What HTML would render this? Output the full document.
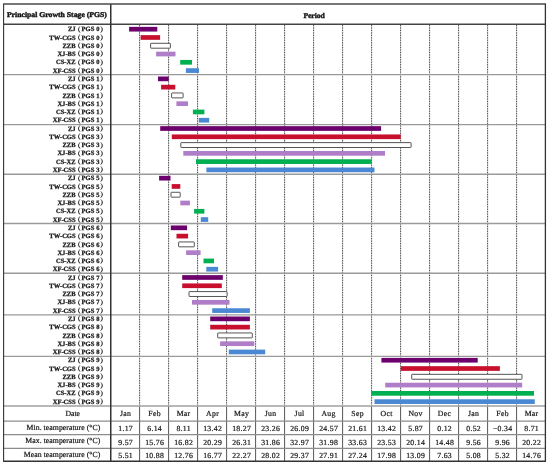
<!DOCTYPE html>
<html><head><meta charset="utf-8"><title>Growth stage periods</title><style>
html,body{margin:0;padding:0;background:#fff;width:550px;height:466px;overflow:hidden}
svg{display:block}
text{font-family:"Liberation Serif","Noto Serif CJK SC",serif;fill:#1a1a1a;text-rendering:geometricPrecision}
.hd{font-weight:bold;font-size:7.4px;stroke:#111;stroke-width:0.4px}
.lb{font-weight:bold;font-size:6.55px;stroke:#111;stroke-width:0.25px}
.lp{font-family:"Liberation Serif","Noto Serif CJK SC",serif;font-weight:bold;font-size:6.6px;stroke:#111;stroke-width:0.3px}
.tb{font-size:7.75px;stroke:#111;stroke-width:0.2px}
</style></head><body>
<svg width="550" height="466" viewBox="0 0 550 466">
<rect width="550" height="466" fill="#fff"/>
<line x1="139.6" y1="24.9" x2="139.6" y2="405.4" stroke="#d0d0d0" stroke-width="1"/>
<line x1="139.6" y1="24.9" x2="139.6" y2="405.4" stroke="#4a4a4a" stroke-width="1" stroke-dasharray="1.25 1.2"/>
<line x1="139.6" y1="405.9" x2="139.6" y2="461.2" stroke="#555" stroke-width="1"/>
<line x1="168.6" y1="24.9" x2="168.6" y2="405.4" stroke="#d0d0d0" stroke-width="1"/>
<line x1="168.6" y1="24.9" x2="168.6" y2="405.4" stroke="#4a4a4a" stroke-width="1" stroke-dasharray="1.25 1.2"/>
<line x1="168.6" y1="405.9" x2="168.6" y2="461.2" stroke="#555" stroke-width="1"/>
<line x1="197.6" y1="24.9" x2="197.6" y2="405.4" stroke="#d0d0d0" stroke-width="1"/>
<line x1="197.6" y1="24.9" x2="197.6" y2="405.4" stroke="#4a4a4a" stroke-width="1" stroke-dasharray="1.25 1.2"/>
<line x1="197.6" y1="405.9" x2="197.6" y2="461.2" stroke="#555" stroke-width="1"/>
<line x1="226.6" y1="24.9" x2="226.6" y2="405.4" stroke="#d0d0d0" stroke-width="1"/>
<line x1="226.6" y1="24.9" x2="226.6" y2="405.4" stroke="#4a4a4a" stroke-width="1" stroke-dasharray="1.25 1.2"/>
<line x1="226.6" y1="405.9" x2="226.6" y2="461.2" stroke="#555" stroke-width="1"/>
<line x1="255.6" y1="24.9" x2="255.6" y2="405.4" stroke="#d0d0d0" stroke-width="1"/>
<line x1="255.6" y1="24.9" x2="255.6" y2="405.4" stroke="#4a4a4a" stroke-width="1" stroke-dasharray="1.25 1.2"/>
<line x1="255.6" y1="405.9" x2="255.6" y2="461.2" stroke="#555" stroke-width="1"/>
<line x1="284.6" y1="24.9" x2="284.6" y2="405.4" stroke="#d0d0d0" stroke-width="1"/>
<line x1="284.6" y1="24.9" x2="284.6" y2="405.4" stroke="#4a4a4a" stroke-width="1" stroke-dasharray="1.25 1.2"/>
<line x1="284.6" y1="405.9" x2="284.6" y2="461.2" stroke="#555" stroke-width="1"/>
<line x1="313.6" y1="24.9" x2="313.6" y2="405.4" stroke="#d0d0d0" stroke-width="1"/>
<line x1="313.6" y1="24.9" x2="313.6" y2="405.4" stroke="#4a4a4a" stroke-width="1" stroke-dasharray="1.25 1.2"/>
<line x1="313.6" y1="405.9" x2="313.6" y2="461.2" stroke="#555" stroke-width="1"/>
<line x1="342.6" y1="24.9" x2="342.6" y2="405.4" stroke="#d0d0d0" stroke-width="1"/>
<line x1="342.6" y1="24.9" x2="342.6" y2="405.4" stroke="#4a4a4a" stroke-width="1" stroke-dasharray="1.25 1.2"/>
<line x1="342.6" y1="405.9" x2="342.6" y2="461.2" stroke="#555" stroke-width="1"/>
<line x1="371.6" y1="24.9" x2="371.6" y2="405.4" stroke="#d0d0d0" stroke-width="1"/>
<line x1="371.6" y1="24.9" x2="371.6" y2="405.4" stroke="#4a4a4a" stroke-width="1" stroke-dasharray="1.25 1.2"/>
<line x1="371.6" y1="405.9" x2="371.6" y2="461.2" stroke="#555" stroke-width="1"/>
<line x1="400.6" y1="24.9" x2="400.6" y2="405.4" stroke="#d0d0d0" stroke-width="1"/>
<line x1="400.6" y1="24.9" x2="400.6" y2="405.4" stroke="#4a4a4a" stroke-width="1" stroke-dasharray="1.25 1.2"/>
<line x1="400.6" y1="405.9" x2="400.6" y2="461.2" stroke="#555" stroke-width="1"/>
<line x1="429.6" y1="24.9" x2="429.6" y2="405.4" stroke="#d0d0d0" stroke-width="1"/>
<line x1="429.6" y1="24.9" x2="429.6" y2="405.4" stroke="#4a4a4a" stroke-width="1" stroke-dasharray="1.25 1.2"/>
<line x1="429.6" y1="405.9" x2="429.6" y2="461.2" stroke="#555" stroke-width="1"/>
<line x1="458.6" y1="24.9" x2="458.6" y2="405.4" stroke="#d0d0d0" stroke-width="1"/>
<line x1="458.6" y1="24.9" x2="458.6" y2="405.4" stroke="#4a4a4a" stroke-width="1" stroke-dasharray="1.25 1.2"/>
<line x1="458.6" y1="405.9" x2="458.6" y2="461.2" stroke="#555" stroke-width="1"/>
<line x1="487.6" y1="24.9" x2="487.6" y2="405.4" stroke="#d0d0d0" stroke-width="1"/>
<line x1="487.6" y1="24.9" x2="487.6" y2="405.4" stroke="#4a4a4a" stroke-width="1" stroke-dasharray="1.25 1.2"/>
<line x1="487.6" y1="405.9" x2="487.6" y2="461.2" stroke="#555" stroke-width="1"/>
<line x1="516.6" y1="24.9" x2="516.6" y2="405.4" stroke="#d0d0d0" stroke-width="1"/>
<line x1="516.6" y1="24.9" x2="516.6" y2="405.4" stroke="#4a4a4a" stroke-width="1" stroke-dasharray="1.25 1.2"/>
<line x1="516.6" y1="405.9" x2="516.6" y2="461.2" stroke="#555" stroke-width="1"/>
<line x1="3.6" y1="74.6" x2="545.4" y2="74.6" stroke="#9a9a9a" stroke-width="1.4"/>
<line x1="3.6" y1="124.6" x2="545.4" y2="124.6" stroke="#9a9a9a" stroke-width="1.4"/>
<line x1="3.6" y1="174.2" x2="545.4" y2="174.2" stroke="#9a9a9a" stroke-width="1.4"/>
<line x1="3.6" y1="223.5" x2="545.4" y2="223.5" stroke="#9a9a9a" stroke-width="1.4"/>
<line x1="3.6" y1="273.2" x2="545.4" y2="273.2" stroke="#9a9a9a" stroke-width="1.4"/>
<line x1="3.6" y1="314.9" x2="545.4" y2="314.9" stroke="#9a9a9a" stroke-width="1.4"/>
<line x1="3.6" y1="356.4" x2="545.4" y2="356.4" stroke="#9a9a9a" stroke-width="1.4"/>
<line x1="3.6" y1="405.9" x2="545.4" y2="405.9" stroke="#a0a0a0" stroke-width="1.5"/>
<line x1="3.6" y1="421.2" x2="545.4" y2="421.2" stroke="#8c8c8c" stroke-width="1.3"/>
<line x1="3.6" y1="434.6" x2="545.4" y2="434.6" stroke="#8c8c8c" stroke-width="1.3"/>
<line x1="3.6" y1="448.3" x2="545.4" y2="448.3" stroke="#8c8c8c" stroke-width="1.3"/>
<rect x="129.1" y="26.85" width="28.2" height="4.7" fill="#6c006c"/>
<text class="lb" x="75.6" y="31.35" text-anchor="end">ZJ</text>
<text class="lp" x="74.1" y="31.65">（</text>
<text class="lb" x="81.4" y="31.35" style="letter-spacing:0.15px">PGS 0</text>
<text class="lp" x="100.2" y="31.65">）</text>
<rect x="140.6" y="35.13" width="19.5" height="4.7" fill="#c8102e"/>
<text class="lb" x="75.6" y="39.63" text-anchor="end">TW-CGS</text>
<text class="lp" x="74.1" y="39.93">（</text>
<text class="lb" x="81.4" y="39.63" style="letter-spacing:0.15px">PGS 0</text>
<text class="lp" x="100.2" y="39.93">）</text>
<rect x="150.6" y="43.3" width="19.8" height="4.9" rx="0.5" fill="#fff" stroke="#363636" stroke-width="0.85"/>
<text class="lb" x="75.6" y="47.9" text-anchor="end">ZZB</text>
<text class="lp" x="74.1" y="48.2">（</text>
<text class="lb" x="81.4" y="47.9" style="letter-spacing:0.15px">PGS 0</text>
<text class="lp" x="100.2" y="48.2">）</text>
<rect x="156.1" y="51.68" width="19.4" height="4.7" fill="#b07ec8"/>
<text class="lb" x="75.6" y="56.18" text-anchor="end">XJ-BS</text>
<text class="lp" x="74.1" y="56.48">（</text>
<text class="lb" x="81.4" y="56.18" style="letter-spacing:0.15px">PGS 0</text>
<text class="lp" x="100.2" y="56.48">）</text>
<rect x="180.2" y="59.95" width="11.8" height="4.7" fill="#00b050"/>
<text class="lb" x="75.6" y="64.45" text-anchor="end">CS-XZ</text>
<text class="lp" x="74.1" y="64.75">（</text>
<text class="lb" x="81.4" y="64.45" style="letter-spacing:0.15px">PGS 0</text>
<text class="lp" x="100.2" y="64.75">）</text>
<rect x="185.9" y="68.23" width="13.1" height="4.7" fill="#4b88d4"/>
<text class="lb" x="75.6" y="72.73" text-anchor="end">XF-CSS</text>
<text class="lp" x="74.1" y="73.03">（</text>
<text class="lb" x="81.4" y="72.73" style="letter-spacing:0.15px">PGS 0</text>
<text class="lp" x="100.2" y="73.03">）</text>
<rect x="158" y="76.51" width="10.7" height="4.7" fill="#6c006c"/>
<text class="lb" x="75.6" y="81.01" text-anchor="end">ZJ</text>
<text class="lp" x="74.1" y="81.31">（</text>
<text class="lb" x="81.4" y="81.01" style="letter-spacing:0.15px">PGS 1</text>
<text class="lp" x="100.2" y="81.31">）</text>
<rect x="161.1" y="84.78" width="14.2" height="4.7" fill="#c8102e"/>
<text class="lb" x="75.6" y="89.28" text-anchor="end">TW-CGS</text>
<text class="lp" x="74.1" y="89.58">（</text>
<text class="lb" x="81.4" y="89.28" style="letter-spacing:0.15px">PGS 1</text>
<text class="lp" x="100.2" y="89.58">）</text>
<rect x="171.6" y="92.96" width="11.5" height="4.9" rx="0.5" fill="#fff" stroke="#363636" stroke-width="0.85"/>
<text class="lb" x="75.6" y="97.56" text-anchor="end">ZZB</text>
<text class="lp" x="74.1" y="97.86">（</text>
<text class="lb" x="81.4" y="97.56" style="letter-spacing:0.15px">PGS 1</text>
<text class="lp" x="100.2" y="97.86">）</text>
<rect x="176.4" y="101.33" width="11.6" height="4.7" fill="#b07ec8"/>
<text class="lb" x="75.6" y="105.83" text-anchor="end">XJ-BS</text>
<text class="lp" x="74.1" y="106.13">（</text>
<text class="lb" x="81.4" y="105.83" style="letter-spacing:0.15px">PGS 1</text>
<text class="lp" x="100.2" y="106.13">）</text>
<rect x="192.9" y="109.61" width="11.5" height="4.7" fill="#00b050"/>
<text class="lb" x="75.6" y="114.11" text-anchor="end">CS-XZ</text>
<text class="lp" x="74.1" y="114.41">（</text>
<text class="lb" x="81.4" y="114.11" style="letter-spacing:0.15px">PGS 1</text>
<text class="lp" x="100.2" y="114.41">）</text>
<rect x="198.8" y="117.89" width="10.4" height="4.7" fill="#4b88d4"/>
<text class="lb" x="75.6" y="122.39" text-anchor="end">XF-CSS</text>
<text class="lp" x="74.1" y="122.69">（</text>
<text class="lb" x="81.4" y="122.39" style="letter-spacing:0.15px">PGS 1</text>
<text class="lp" x="100.2" y="122.69">）</text>
<rect x="160.2" y="126.16" width="220.9" height="4.7" fill="#6c006c"/>
<text class="lb" x="75.6" y="130.66" text-anchor="end">ZJ</text>
<text class="lp" x="74.1" y="130.96">（</text>
<text class="lb" x="81.4" y="130.66" style="letter-spacing:0.15px">PGS 3</text>
<text class="lp" x="100.2" y="130.96">）</text>
<rect x="171.8" y="134.44" width="228.9" height="4.7" fill="#c8102e"/>
<text class="lb" x="75.6" y="138.94" text-anchor="end">TW-CGS</text>
<text class="lp" x="74.1" y="139.24">（</text>
<text class="lb" x="81.4" y="138.94" style="letter-spacing:0.15px">PGS 3</text>
<text class="lp" x="100.2" y="139.24">）</text>
<rect x="180.8" y="142.61" width="230.3" height="4.9" rx="0.5" fill="#fff" stroke="#363636" stroke-width="0.85"/>
<text class="lb" x="75.6" y="147.21" text-anchor="end">ZZB</text>
<text class="lp" x="74.1" y="147.51">（</text>
<text class="lb" x="81.4" y="147.21" style="letter-spacing:0.15px">PGS 3</text>
<text class="lp" x="100.2" y="147.51">）</text>
<rect x="183.3" y="150.99" width="201.7" height="4.7" fill="#b07ec8"/>
<text class="lb" x="75.6" y="155.49" text-anchor="end">XJ-BS</text>
<text class="lp" x="74.1" y="155.79">（</text>
<text class="lb" x="81.4" y="155.49" style="letter-spacing:0.15px">PGS 3</text>
<text class="lp" x="100.2" y="155.79">）</text>
<rect x="196" y="159.27" width="175.6" height="4.7" fill="#00b050"/>
<text class="lb" x="75.6" y="163.77" text-anchor="end">CS-XZ</text>
<text class="lp" x="74.1" y="164.07">（</text>
<text class="lb" x="81.4" y="163.77" style="letter-spacing:0.15px">PGS 3</text>
<text class="lp" x="100.2" y="164.07">）</text>
<rect x="206.4" y="167.54" width="168.1" height="4.7" fill="#4b88d4"/>
<text class="lb" x="75.6" y="172.04" text-anchor="end">XF-CSS</text>
<text class="lp" x="74.1" y="172.34">（</text>
<text class="lb" x="81.4" y="172.04" style="letter-spacing:0.15px">PGS 3</text>
<text class="lp" x="100.2" y="172.34">）</text>
<rect x="159.1" y="175.82" width="11.4" height="4.7" fill="#6c006c"/>
<text class="lb" x="75.6" y="180.32" text-anchor="end">ZJ</text>
<text class="lp" x="74.1" y="180.62">（</text>
<text class="lb" x="81.4" y="180.32" style="letter-spacing:0.15px">PGS 5</text>
<text class="lp" x="100.2" y="180.62">）</text>
<rect x="171.7" y="184.09" width="8.6" height="4.7" fill="#c8102e"/>
<text class="lb" x="75.6" y="188.59" text-anchor="end">TW-CGS</text>
<text class="lp" x="74.1" y="188.89">（</text>
<text class="lb" x="81.4" y="188.59" style="letter-spacing:0.15px">PGS 5</text>
<text class="lp" x="100.2" y="188.89">）</text>
<rect x="171" y="192.27" width="9.2" height="4.9" rx="0.5" fill="#fff" stroke="#363636" stroke-width="0.85"/>
<text class="lb" x="75.6" y="196.87" text-anchor="end">ZZB</text>
<text class="lp" x="74.1" y="197.17">（</text>
<text class="lb" x="81.4" y="196.87" style="letter-spacing:0.15px">PGS 5</text>
<text class="lp" x="100.2" y="197.17">）</text>
<rect x="180.3" y="200.65" width="9.6" height="4.7" fill="#b07ec8"/>
<text class="lb" x="75.6" y="205.15" text-anchor="end">XJ-BS</text>
<text class="lp" x="74.1" y="205.45">（</text>
<text class="lb" x="81.4" y="205.15" style="letter-spacing:0.15px">PGS 5</text>
<text class="lp" x="100.2" y="205.45">）</text>
<rect x="194.1" y="208.92" width="10.3" height="4.7" fill="#00b050"/>
<text class="lb" x="75.6" y="213.42" text-anchor="end">CS-XZ</text>
<text class="lp" x="74.1" y="213.72">（</text>
<text class="lb" x="81.4" y="213.42" style="letter-spacing:0.15px">PGS 5</text>
<text class="lp" x="100.2" y="213.72">）</text>
<rect x="200.8" y="217.2" width="7.4" height="4.7" fill="#4b88d4"/>
<text class="lb" x="75.6" y="221.7" text-anchor="end">XF-CSS</text>
<text class="lp" x="74.1" y="222">（</text>
<text class="lb" x="81.4" y="221.7" style="letter-spacing:0.15px">PGS 5</text>
<text class="lp" x="100.2" y="222">）</text>
<rect x="170.8" y="225.47" width="16.3" height="4.7" fill="#6c006c"/>
<text class="lb" x="75.6" y="229.97" text-anchor="end">ZJ</text>
<text class="lp" x="74.1" y="230.27">（</text>
<text class="lb" x="81.4" y="229.97" style="letter-spacing:0.15px">PGS 6</text>
<text class="lp" x="100.2" y="230.27">）</text>
<rect x="176.5" y="233.75" width="11.6" height="4.7" fill="#c8102e"/>
<text class="lb" x="75.6" y="238.25" text-anchor="end">TW-CGS</text>
<text class="lp" x="74.1" y="238.55">（</text>
<text class="lb" x="81.4" y="238.25" style="letter-spacing:0.15px">PGS 6</text>
<text class="lp" x="100.2" y="238.55">）</text>
<rect x="178.6" y="241.93" width="15.7" height="4.9" rx="0.5" fill="#fff" stroke="#363636" stroke-width="0.85"/>
<text class="lb" x="75.6" y="246.53" text-anchor="end">ZZB</text>
<text class="lp" x="74.1" y="246.83">（</text>
<text class="lb" x="81.4" y="246.53" style="letter-spacing:0.15px">PGS 6</text>
<text class="lp" x="100.2" y="246.83">）</text>
<rect x="186.1" y="250.3" width="14.5" height="4.7" fill="#b07ec8"/>
<text class="lb" x="75.6" y="254.8" text-anchor="end">XJ-BS</text>
<text class="lp" x="74.1" y="255.1">（</text>
<text class="lb" x="81.4" y="254.8" style="letter-spacing:0.15px">PGS 6</text>
<text class="lp" x="100.2" y="255.1">）</text>
<rect x="203.5" y="258.58" width="10.5" height="4.7" fill="#00b050"/>
<text class="lb" x="75.6" y="263.08" text-anchor="end">CS-XZ</text>
<text class="lp" x="74.1" y="263.38">（</text>
<text class="lb" x="81.4" y="263.08" style="letter-spacing:0.15px">PGS 6</text>
<text class="lp" x="100.2" y="263.38">）</text>
<rect x="206.3" y="266.85" width="11.8" height="4.7" fill="#4b88d4"/>
<text class="lb" x="75.6" y="271.35" text-anchor="end">XF-CSS</text>
<text class="lp" x="74.1" y="271.65">（</text>
<text class="lb" x="81.4" y="271.35" style="letter-spacing:0.15px">PGS 6</text>
<text class="lp" x="100.2" y="271.65">）</text>
<rect x="182.2" y="275.13" width="40.6" height="4.7" fill="#6c006c"/>
<text class="lb" x="75.6" y="279.63" text-anchor="end">ZJ</text>
<text class="lp" x="74.1" y="279.93">（</text>
<text class="lb" x="81.4" y="279.63" style="letter-spacing:0.15px">PGS 7</text>
<text class="lp" x="100.2" y="279.93">）</text>
<rect x="182.2" y="283.41" width="39.6" height="4.7" fill="#c8102e"/>
<text class="lb" x="75.6" y="287.91" text-anchor="end">TW-CGS</text>
<text class="lp" x="74.1" y="288.21">（</text>
<text class="lb" x="81.4" y="287.91" style="letter-spacing:0.15px">PGS 7</text>
<text class="lp" x="100.2" y="288.21">）</text>
<rect x="189" y="291.58" width="38.1" height="4.9" rx="0.5" fill="#fff" stroke="#363636" stroke-width="0.85"/>
<text class="lb" x="75.6" y="296.18" text-anchor="end">ZZB</text>
<text class="lp" x="74.1" y="296.48">（</text>
<text class="lb" x="81.4" y="296.18" style="letter-spacing:0.15px">PGS 7</text>
<text class="lp" x="100.2" y="296.48">）</text>
<rect x="192" y="299.96" width="37.5" height="4.7" fill="#b07ec8"/>
<text class="lb" x="75.6" y="304.46" text-anchor="end">XJ-BS</text>
<text class="lp" x="74.1" y="304.76">（</text>
<text class="lb" x="81.4" y="304.46" style="letter-spacing:0.15px">PGS 7</text>
<text class="lp" x="100.2" y="304.76">）</text>
<rect x="212.2" y="308.23" width="37.7" height="4.7" fill="#4b88d4"/>
<text class="lb" x="75.6" y="312.73" text-anchor="end">XF-CSS</text>
<text class="lp" x="74.1" y="313.03">（</text>
<text class="lb" x="81.4" y="312.73" style="letter-spacing:0.15px">PGS 7</text>
<text class="lp" x="100.2" y="313.03">）</text>
<rect x="210.2" y="316.51" width="39.7" height="4.7" fill="#6c006c"/>
<text class="lb" x="75.6" y="321.01" text-anchor="end">ZJ</text>
<text class="lp" x="74.1" y="321.31">（</text>
<text class="lb" x="81.4" y="321.01" style="letter-spacing:0.15px">PGS 8</text>
<text class="lp" x="100.2" y="321.31">）</text>
<rect x="210.2" y="324.79" width="39.7" height="4.7" fill="#c8102e"/>
<text class="lb" x="75.6" y="329.29" text-anchor="end">TW-CGS</text>
<text class="lp" x="74.1" y="329.59">（</text>
<text class="lb" x="81.4" y="329.29" style="letter-spacing:0.15px">PGS 8</text>
<text class="lp" x="100.2" y="329.59">）</text>
<rect x="217.7" y="332.96" width="34.6" height="4.9" rx="0.5" fill="#fff" stroke="#363636" stroke-width="0.85"/>
<text class="lb" x="75.6" y="337.56" text-anchor="end">ZZB</text>
<text class="lp" x="74.1" y="337.86">（</text>
<text class="lb" x="81.4" y="337.56" style="letter-spacing:0.15px">PGS 8</text>
<text class="lp" x="100.2" y="337.86">）</text>
<rect x="220.1" y="341.34" width="34.2" height="4.7" fill="#b07ec8"/>
<text class="lb" x="75.6" y="345.84" text-anchor="end">XJ-BS</text>
<text class="lp" x="74.1" y="346.14">（</text>
<text class="lb" x="81.4" y="345.84" style="letter-spacing:0.15px">PGS 8</text>
<text class="lp" x="100.2" y="346.14">）</text>
<rect x="228.8" y="349.61" width="36.4" height="4.7" fill="#4b88d4"/>
<text class="lb" x="75.6" y="354.11" text-anchor="end">XF-CSS</text>
<text class="lp" x="74.1" y="354.41">（</text>
<text class="lb" x="81.4" y="354.11" style="letter-spacing:0.15px">PGS 8</text>
<text class="lp" x="100.2" y="354.41">）</text>
<rect x="381.4" y="357.89" width="96.3" height="4.7" fill="#6c006c"/>
<text class="lb" x="75.6" y="362.39" text-anchor="end">ZJ</text>
<text class="lp" x="74.1" y="362.69">（</text>
<text class="lb" x="81.4" y="362.39" style="letter-spacing:0.15px">PGS 9</text>
<text class="lp" x="100.2" y="362.69">）</text>
<rect x="400.7" y="366.17" width="99.2" height="4.7" fill="#c8102e"/>
<text class="lb" x="75.6" y="370.67" text-anchor="end">TW-CGS</text>
<text class="lp" x="74.1" y="370.97">（</text>
<text class="lb" x="81.4" y="370.67" style="letter-spacing:0.15px">PGS 9</text>
<text class="lp" x="100.2" y="370.97">）</text>
<rect x="411.7" y="374.34" width="110.3" height="4.9" rx="0.5" fill="#fff" stroke="#363636" stroke-width="0.85"/>
<text class="lb" x="75.6" y="378.94" text-anchor="end">ZZB</text>
<text class="lp" x="74.1" y="379.24">（</text>
<text class="lb" x="81.4" y="378.94" style="letter-spacing:0.15px">PGS 9</text>
<text class="lp" x="100.2" y="379.24">）</text>
<rect x="385.2" y="382.72" width="137" height="4.7" fill="#b07ec8"/>
<text class="lb" x="75.6" y="387.22" text-anchor="end">XJ-BS</text>
<text class="lp" x="74.1" y="387.52">（</text>
<text class="lb" x="81.4" y="387.22" style="letter-spacing:0.15px">PGS 9</text>
<text class="lp" x="100.2" y="387.52">）</text>
<rect x="371.3" y="390.99" width="162.7" height="4.7" fill="#00b050"/>
<text class="lb" x="75.6" y="395.49" text-anchor="end">CS-XZ</text>
<text class="lp" x="74.1" y="395.79">（</text>
<text class="lb" x="81.4" y="395.49" style="letter-spacing:0.15px">PGS 9</text>
<text class="lp" x="100.2" y="395.79">）</text>
<rect x="374.5" y="399.27" width="160.3" height="4.7" fill="#4b88d4"/>
<text class="lb" x="75.6" y="403.77" text-anchor="end">XF-CSS</text>
<text class="lp" x="74.1" y="404.07">（</text>
<text class="lb" x="81.4" y="403.77" style="letter-spacing:0.15px">PGS 9</text>
<text class="lp" x="100.2" y="404.07">）</text>
<line x1="3.6" y1="24.3" x2="545.4" y2="24.3" stroke="#444" stroke-width="1.4"/>
<line x1="110.75" y1="4.0" x2="110.75" y2="461.2" stroke="#333" stroke-width="1.5"/>
<line x1="3.1" y1="4.0" x2="546.0" y2="4.0" stroke="#4a4a4a" stroke-width="1.5"/>
<line x1="3.1" y1="461.2" x2="546.0" y2="461.2" stroke="#333" stroke-width="1.5"/>
<line x1="3.6" y1="4.0" x2="3.6" y2="461.2" stroke="#333" stroke-width="1.1"/>
<line x1="545.4" y1="4.0" x2="545.4" y2="461.2" stroke="#333" stroke-width="1.3"/>
<text class="hd" x="6.9" y="17.45" textLength="100" lengthAdjust="spacingAndGlyphs">Principal Growth Stage (PGS)</text>
<text class="hd" x="303.4" y="17.7" textLength="21.4" lengthAdjust="spacingAndGlyphs">Period</text>
<text class="tb" x="72.7" y="415.8" text-anchor="middle">Date</text>
<text class="tb" x="100.3" y="429.8" text-anchor="end" style="letter-spacing:0.05px">Min. teamperature (°C)</text>
<text class="tb" x="100.3" y="442.9" text-anchor="end" style="letter-spacing:0.05px">Max. teamperature (°C)</text>
<text class="tb" x="100.3" y="456.6" text-anchor="end" style="letter-spacing:0.05px">Mean teamperature (°C)</text>
<text class="tb" x="125.55" y="416.1" text-anchor="middle" style="letter-spacing:0.3px">Jan</text>
<text class="tb" x="125.65" y="430.9" text-anchor="middle" style="letter-spacing:0.3px">1.17</text>
<text class="tb" x="125.65" y="444.6" text-anchor="middle" style="letter-spacing:0.3px">9.57</text>
<text class="tb" x="125.65" y="458.3" text-anchor="middle" style="letter-spacing:0.3px">5.51</text>
<text class="tb" x="154.55" y="416.1" text-anchor="middle" style="letter-spacing:0.3px">Feb</text>
<text class="tb" x="154.65" y="430.9" text-anchor="middle" style="letter-spacing:0.3px">6.14</text>
<text class="tb" x="154.65" y="444.6" text-anchor="middle" style="letter-spacing:0.3px">15.76</text>
<text class="tb" x="154.65" y="458.3" text-anchor="middle" style="letter-spacing:0.3px">10.88</text>
<text class="tb" x="183.55" y="416.1" text-anchor="middle" style="letter-spacing:0.3px">Mar</text>
<text class="tb" x="183.65" y="430.9" text-anchor="middle" style="letter-spacing:0.3px">8.11</text>
<text class="tb" x="183.65" y="444.6" text-anchor="middle" style="letter-spacing:0.3px">16.82</text>
<text class="tb" x="183.65" y="458.3" text-anchor="middle" style="letter-spacing:0.3px">12.76</text>
<text class="tb" x="212.55" y="416.1" text-anchor="middle" style="letter-spacing:0.3px">Apr</text>
<text class="tb" x="212.65" y="430.9" text-anchor="middle" style="letter-spacing:0.3px">13.42</text>
<text class="tb" x="212.65" y="444.6" text-anchor="middle" style="letter-spacing:0.3px">20.29</text>
<text class="tb" x="212.65" y="458.3" text-anchor="middle" style="letter-spacing:0.3px">16.77</text>
<text class="tb" x="241.55" y="416.1" text-anchor="middle" style="letter-spacing:0.3px">May</text>
<text class="tb" x="241.65" y="430.9" text-anchor="middle" style="letter-spacing:0.3px">18.27</text>
<text class="tb" x="241.65" y="444.6" text-anchor="middle" style="letter-spacing:0.3px">26.31</text>
<text class="tb" x="241.65" y="458.3" text-anchor="middle" style="letter-spacing:0.3px">22.27</text>
<text class="tb" x="270.55" y="416.1" text-anchor="middle" style="letter-spacing:0.3px">Jun</text>
<text class="tb" x="270.65" y="430.9" text-anchor="middle" style="letter-spacing:0.3px">23.26</text>
<text class="tb" x="270.65" y="444.6" text-anchor="middle" style="letter-spacing:0.3px">31.86</text>
<text class="tb" x="270.65" y="458.3" text-anchor="middle" style="letter-spacing:0.3px">28.02</text>
<text class="tb" x="299.55" y="416.1" text-anchor="middle" style="letter-spacing:0.3px">Jul</text>
<text class="tb" x="299.65" y="430.9" text-anchor="middle" style="letter-spacing:0.3px">26.09</text>
<text class="tb" x="299.65" y="444.6" text-anchor="middle" style="letter-spacing:0.3px">32.97</text>
<text class="tb" x="299.65" y="458.3" text-anchor="middle" style="letter-spacing:0.3px">29.37</text>
<text class="tb" x="328.55" y="416.1" text-anchor="middle" style="letter-spacing:0.3px">Aug</text>
<text class="tb" x="328.65" y="430.9" text-anchor="middle" style="letter-spacing:0.3px">24.57</text>
<text class="tb" x="328.65" y="444.6" text-anchor="middle" style="letter-spacing:0.3px">31.98</text>
<text class="tb" x="328.65" y="458.3" text-anchor="middle" style="letter-spacing:0.3px">27.91</text>
<text class="tb" x="357.55" y="416.1" text-anchor="middle" style="letter-spacing:0.3px">Sep</text>
<text class="tb" x="357.65" y="430.9" text-anchor="middle" style="letter-spacing:0.3px">21.61</text>
<text class="tb" x="357.65" y="444.6" text-anchor="middle" style="letter-spacing:0.3px">33.63</text>
<text class="tb" x="357.65" y="458.3" text-anchor="middle" style="letter-spacing:0.3px">27.24</text>
<text class="tb" x="386.55" y="416.1" text-anchor="middle" style="letter-spacing:0.3px">Oct</text>
<text class="tb" x="386.65" y="430.9" text-anchor="middle" style="letter-spacing:0.3px">13.42</text>
<text class="tb" x="386.65" y="444.6" text-anchor="middle" style="letter-spacing:0.3px">23.53</text>
<text class="tb" x="386.65" y="458.3" text-anchor="middle" style="letter-spacing:0.3px">17.98</text>
<text class="tb" x="415.55" y="416.1" text-anchor="middle" style="letter-spacing:0.3px">Nov</text>
<text class="tb" x="415.65" y="430.9" text-anchor="middle" style="letter-spacing:0.3px">5.87</text>
<text class="tb" x="415.65" y="444.6" text-anchor="middle" style="letter-spacing:0.3px">20.14</text>
<text class="tb" x="415.65" y="458.3" text-anchor="middle" style="letter-spacing:0.3px">13.09</text>
<text class="tb" x="444.55" y="416.1" text-anchor="middle" style="letter-spacing:0.3px">Dec</text>
<text class="tb" x="444.65" y="430.9" text-anchor="middle" style="letter-spacing:0.3px">0.12</text>
<text class="tb" x="444.65" y="444.6" text-anchor="middle" style="letter-spacing:0.3px">14.48</text>
<text class="tb" x="444.65" y="458.3" text-anchor="middle" style="letter-spacing:0.3px">7.63</text>
<text class="tb" x="473.55" y="416.1" text-anchor="middle" style="letter-spacing:0.3px">Jan</text>
<text class="tb" x="473.65" y="430.9" text-anchor="middle" style="letter-spacing:0.3px">0.52</text>
<text class="tb" x="473.65" y="444.6" text-anchor="middle" style="letter-spacing:0.3px">9.56</text>
<text class="tb" x="473.65" y="458.3" text-anchor="middle" style="letter-spacing:0.3px">5.08</text>
<text class="tb" x="502.55" y="416.1" text-anchor="middle" style="letter-spacing:0.3px">Feb</text>
<text class="tb" x="502.65" y="430.9" text-anchor="middle" style="letter-spacing:0.3px">−0.34</text>
<text class="tb" x="502.65" y="444.6" text-anchor="middle" style="letter-spacing:0.3px">9.96</text>
<text class="tb" x="502.65" y="458.3" text-anchor="middle" style="letter-spacing:0.3px">5.32</text>
<text class="tb" x="531.55" y="416.1" text-anchor="middle" style="letter-spacing:0.3px">Mar</text>
<text class="tb" x="531.65" y="430.9" text-anchor="middle" style="letter-spacing:0.3px">8.71</text>
<text class="tb" x="531.65" y="444.6" text-anchor="middle" style="letter-spacing:0.3px">20.22</text>
<text class="tb" x="531.65" y="458.3" text-anchor="middle" style="letter-spacing:0.3px">14.76</text>
</svg>
</body></html>
